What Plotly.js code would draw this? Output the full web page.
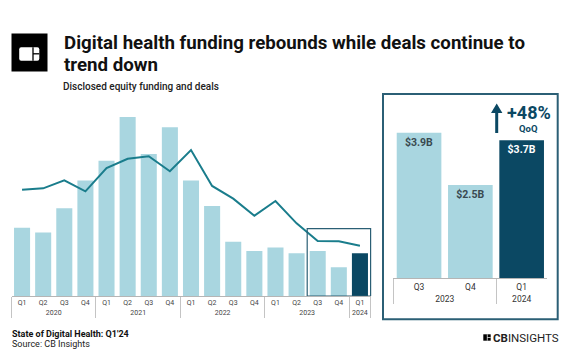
<!DOCTYPE html>
<html>
<head>
<meta charset="utf-8">
<script src="https://cdn.plot.ly/plotly-3.0.1.min.js"></script>
<style>html,body{margin:0;padding:0;background:#fff;}#chart{width:572px;height:364px;}</style>
</head>
<body>
<div id="chart"></div>
<script>
// ---- data ----
const years = ['2020','2020','2020','2020','2021','2021','2021','2021','2022','2022','2022','2022','2023','2023','2023','2023','2024'];
const quarters = ['Q1','Q2','Q3','Q4','Q1','Q2','Q3','Q4','Q1','Q2','Q3','Q4','Q1','Q2','Q3','Q4','Q1'];
const fundingB = [5.9,5.5,7.6,10.0,11.7,15.5,12.3,14.6,10.0,7.8,4.7,3.9,4.2,3.7,3.9,2.5,3.7];
const deals = [594,602,647,585,715,767,781,697,816,615,544,449,531,406,307,306,281];
const zoomYears = ['2023','2023','2024'];
const zoomQuarters = ['Q3','Q4','Q1'];
const zoomFundingB = [3.9,2.5,3.7];
const qoqChange = '+48%';

// ---- helpers ----
const W = 572, H = 364;
const px = v => v / W;
const py = v => 1 - v / H;
const LIGHT = '#a9d6e0', DARK = '#0b4863', LINE = '#1a7d8c', FRAME = '#2b5f75';
const FONT = 'Roboto, "Noto Sans", sans-serif';

const barColors = fundingB.map((v, i) => i === fundingB.length - 1 ? DARK : LIGHT);
const zoomColors = zoomFundingB.map((v, i) => i === zoomFundingB.length - 1 ? DARK : LIGHT);
const zoomTextColors = zoomFundingB.map((v, i) => i === zoomFundingB.length - 1 ? '#ffffff' : '#3a4a50');

const traces = [
  {type: 'bar', x: [years, quarters], y: fundingB, xaxis: 'x', yaxis: 'y',
   marker: {color: barColors}, width: 0.76, hoverinfo: 'skip'},
  {type: 'scatter', mode: 'lines', x: [years, quarters], y: deals, xaxis: 'x', yaxis: 'y2',
   line: {color: LINE, width: 2}, hoverinfo: 'skip'},
  {type: 'bar', x: [zoomYears, zoomQuarters], y: zoomFundingB, xaxis: 'x2', yaxis: 'y3',
   marker: {color: zoomColors}, width: 0.87,
   text: zoomFundingB.map(v => '$' + v.toFixed(1) + 'B'),
   textposition: 'inside', insidetextanchor: 'end', textangle: 0,
   textfont: {family: FONT, size: 10.5, color: zoomTextColors, weight: 'bold'},
   hoverinfo: 'skip'}
];

const leftTop = 100, leftBase = 296;
const rightTop = 100, rightBase = 278.3;

const layout = {
  width: W, height: H,
  margin: {l: 0, r: 0, t: 0, b: 0},
  paper_bgcolor: '#ffffff', plot_bgcolor: 'rgba(0,0,0,0)',
  showlegend: false,
  font: {family: FONT, color: '#333'},
  xaxis: {domain: [px(11.5), px(370.5)], anchor: 'y', type: 'multicategory',
    showline: true, linecolor: '#b5b5b5', linewidth: 1, ticks: '', showgrid: false,
    tickfont: {family: FONT, size: 7, color: '#444'},
    showdividers: true, dividercolor: '#c4c4c4', dividerwidth: 1,
    range: [-0.5, 16.5], fixedrange: true},
  yaxis: {domain: [py(leftBase), py(leftTop)], range: [0, (leftBase - leftTop) / 11.55],
    visible: false, fixedrange: true},
  yaxis2: {overlaying: 'y', range: [0, (leftBase - leftTop) * 5.59], visible: false, fixedrange: true},
  xaxis2: {domain: [px(393.4), px(547.3)], anchor: 'y3', type: 'multicategory',
    showline: true, linecolor: '#b5b5b5', linewidth: 1, ticks: '', showgrid: false,
    tickfont: {family: FONT, size: 8.5, color: '#333'},
    showdividers: true, dividercolor: '#c4c4c4', dividerwidth: 1,
    range: [-0.5, 2.5], fixedrange: true},
  yaxis3: {domain: [py(rightBase), py(rightTop)], range: [0, (rightBase - rightTop) / 37.3],
    visible: false, fixedrange: true},
  shapes: [
    // logo
    {type: 'rect', xref: 'paper', yref: 'paper', x0: px(11.5), x1: px(47.5), y0: py(71.5), y1: py(33.5),
     fillcolor: '#000', line: {width: 0}},
    {type: 'path', xref: 'paper', yref: 'paper',
     path: (() => {
       const x0 = 19.2, x1 = 39.3, y0 = 47.3, y1 = 60.7, r = 2;
       return 'M ' + px(x0 + r) + ' ' + py(y0) + ' L ' + px(x1 - r) + ' ' + py(y0) +
         ' Q ' + px(x1) + ' ' + py(y0) + ' ' + px(x1) + ' ' + py(y0 + r) +
         ' L ' + px(x1) + ' ' + py(y1 - r) + ' Q ' + px(x1) + ' ' + py(y1) + ' ' + px(x1 - r) + ' ' + py(y1) +
         ' L ' + px(x0 + r) + ' ' + py(y1) + ' Q ' + px(x0) + ' ' + py(y1) + ' ' + px(x0) + ' ' + py(y1 - r) +
         ' L ' + px(x0) + ' ' + py(y0 + r) + ' Q ' + px(x0) + ' ' + py(y0) + ' ' + px(x0 + r) + ' ' + py(y0) + ' Z';
     })(),
     fillcolor: '#fff', line: {width: 0}},
    {type: 'line', xref: 'paper', yref: 'paper', x0: px(33), x1: px(33), y0: py(60.7), y1: py(47.3),
     line: {color: '#000', width: 1.3}},
    {type: 'line', xref: 'paper', yref: 'paper', x0: px(33), x1: px(39.3), y0: py(53.8), y1: py(53.8),
     line: {color: '#000', width: 1.3}},
    // highlight rect on left chart
    {type: 'rect', xref: 'paper', yref: 'y', x0: px(307.2), x1: px(370.6), y0: 0, y1: (leftBase - 228.7) / 11.55,
     line: {color: FRAME, width: 1.2}, fillcolor: 'rgba(0,0,0,0)'},
    // right panel frame
    {type: 'rect', xref: 'paper', yref: 'paper', x0: px(383), x1: px(557.7), y0: py(319.3), y1: py(94),
     line: {color: FRAME, width: 2}, fillcolor: 'rgba(0,0,0,0)'},
    // up arrow
    {type: 'line', xref: 'paper', yref: 'paper', x0: px(496.7), x1: px(496.7), y0: py(133), y1: py(112),
     line: {color: DARK, width: 3}},
    {type: 'path', xref: 'paper', yref: 'paper',
     path: 'M ' + px(491) + ' ' + py(113) + ' L ' + px(502.4) + ' ' + py(113) + ' L ' + px(496.7) + ' ' + py(103.5) + ' Z',
     fillcolor: DARK, line: {width: 0}},
    // CB Insights footer logo
    {type: 'rect', xref: 'paper', yref: 'paper', x0: px(483.3), x1: px(490.7), y0: py(340.7), y1: py(334.3),
     fillcolor: '#000', line: {width: 0}},
    {type: 'line', xref: 'paper', yref: 'paper', x0: px(487.3), x1: px(487.3), y0: py(340.7), y1: py(334.3),
     line: {color: '#fff', width: 0.7}},
    {type: 'line', xref: 'paper', yref: 'paper', x0: px(487.3), x1: px(490.7), y0: py(337.5), y1: py(337.5),
     line: {color: '#fff', width: 0.7}}
  ],
  annotations: [
    {xref: 'paper', yref: 'paper', x: px(61.5), y: py(42.7), xanchor: 'left', yanchor: 'middle',
     text: 'Digital health funding rebounds while deals continue to', showarrow: false,
     font: {family: FONT, size: 18.7, color: '#111', weight: 'bold'}},
    {xref: 'paper', yref: 'paper', x: px(61.5), y: py(65), xanchor: 'left', yanchor: 'middle',
     text: 'trend down', showarrow: false,
     font: {family: FONT, size: 18.7, color: '#111', weight: 'bold'}},
    {xref: 'paper', yref: 'paper', x: px(60.5), y: py(86), xanchor: 'left', yanchor: 'middle',
     text: 'Disclosed equity funding and deals', showarrow: false,
     font: {family: FONT, size: 10, color: '#222', weight: 500}},
    {xref: 'paper', yref: 'paper', x: px(505), y: py(112.7), xanchor: 'left', yanchor: 'middle',
     text: qoqChange, showarrow: false,
     font: {family: FONT, size: 18, color: DARK, weight: 'bold'}},
    {xref: 'paper', yref: 'paper', x: px(528), y: py(128.3), xanchor: 'center', yanchor: 'middle',
     text: 'QoQ', showarrow: false,
     font: {family: FONT, size: 9.5, color: DARK, weight: 'bold'}},
    {xref: 'paper', yref: 'paper', x: px(9.5), y: py(334.3), xanchor: 'left', yanchor: 'middle',
     text: "State of Digital Health: Q1'24", showarrow: false,
     font: {family: FONT, size: 9, color: '#111', weight: 'bold'}},
    {xref: 'paper', yref: 'paper', x: px(9.5), y: py(343.8), xanchor: 'left', yanchor: 'middle',
     text: 'Source: CB Insights', showarrow: false,
     font: {family: FONT, size: 9, color: '#222'}},
    {xref: 'paper', yref: 'paper', x: px(490.5), y: py(337.8), xanchor: 'left', yanchor: 'middle',
     text: '<b>CB</b>INSIGHTS', showarrow: false,
     font: {family: FONT, size: 11.5, color: '#222'}}
  ]
};

Plotly.newPlot('chart', traces, layout, {displayModeBar: false, staticPlot: true});
</script>
</body>
</html>
